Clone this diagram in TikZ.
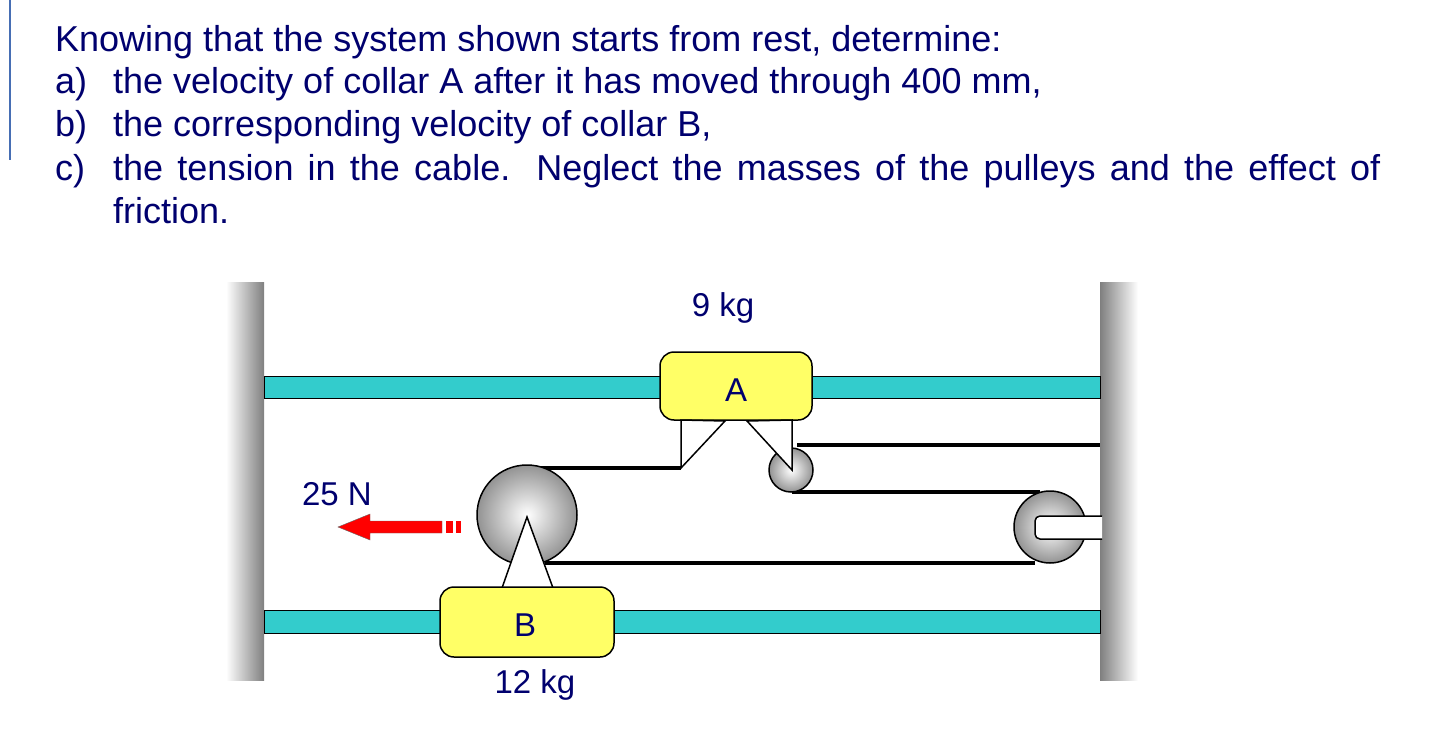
\documentclass[tikz,border=0pt]{standalone}
\usepackage{fontspec}
\setmainfont{Liberation Sans}
\begin{document}
\begin{tikzpicture}[x=1pt,y=-1pt,
  txt/.style={text=navy,font=\fontsize{36}{43}\selectfont,inner sep=0pt},
  lbl/.style={text=navy,font=\fontsize{33}{38}\selectfont,inner sep=0pt},
  rail/.style={fill=railc,draw=black,line width=0.6pt},
  collar/.style={fill=collc,draw=black,line width=1.5pt,rounded corners=14pt},
  cable/.style={line width=4.5pt,black},
  pul/.style={draw=black,line width=1.5pt,inner color=white,outer color=gray!85},
  brk/.style={fill=white,draw=black,line width=1.5pt}]
\definecolor{navy}{RGB}{0,0,110}
\definecolor{railc}{RGB}{51,204,204}
\definecolor{collc}{RGB}{255,255,102}
\useasboundingbox (0,0) rectangle (1440,741);
\draw[line width=1.5pt,color={rgb,255:red,70;green,110;blue,180}] (10,0) -- (10,160);
\node[txt,anchor=base west] (t1) at (55,52) {Knowing that the system shown starts from rest, determine:};
\node[txt,anchor=base west] (a1) at (55,94) {a)};
\node[txt,anchor=base west] (a2) at (113,94) {the velocity of collar A after it has moved through 400 mm,};
\node[txt,anchor=base west] (b1) at (55,137) {b)};
\node[txt,anchor=base west] (b2) at (113,137) {the corresponding velocity of collar B,};
\node[txt,anchor=base west] (t4) at (55,180) {c)};
\node[txt,anchor=base west,text width=1267pt,align=justify] (t5) at (113,180) {the tension in the cable. Neglect the masses of the pulleys and the effect of\linebreak friction.};
% walls
\shade[left color=white,right color=gray] (226,282) rectangle (264,680);
\shade[left color=gray,right color=white] (1100,282) rectangle (1138,680);
% rails
\draw[rail] (264,376) rectangle (1100,398);
\draw[rail] (264,610) rectangle (1100,633);
% cables
\draw[cable] (520,468) -- (681,468);
\draw[cable] (797,445) -- (1100,445);
\draw[cable] (792,492) -- (1040,492);
\draw[cable] (545,563) -- (1035,563);
% pulleys
\draw[pul] (1050,527) circle (36);
\draw[brk,rounded corners=5pt] (1102,516) -- (1035,516) -- (1035,539) -- (1102,539);
\draw[pul] (791,470) circle (22);
\draw[pul] (527,515) circle (50);
% collar A
\node[collar,minimum width=152pt,minimum height=68pt] (A) at (736,386) {};
\node[lbl] at (736,390) {A};
\node[lbl] (ka) at (723,308) {9 kg};
\draw[brk] (681,420) -- (681,468) -- (725,421) -- cycle;
\draw[brk] (747,421) -- (792,470) -- (792,420) -- cycle;
% collar B
\draw[brk] (527,517) -- (502,588) -- (553,588) -- cycle;
\node[collar,minimum width=174pt,minimum height=70pt] (B) at (527,622) {};
\node[lbl] at (525,625) {B};
\node[lbl] (kb) at (535,685) {12 kg};
% force
\fill[red,draw=black!60,line width=0.4pt] (338,527) -- (370,514) -- (370,521) -- (442,521) -- (442,533) -- (370,533) -- (370,540) -- cycle;
\fill[red] (446,521) rectangle (453,533);
\fill[red] (456,521) rectangle (461,533);
\node[lbl] (f) at (337,494) {25 N};
\end{tikzpicture}
\end{document}
